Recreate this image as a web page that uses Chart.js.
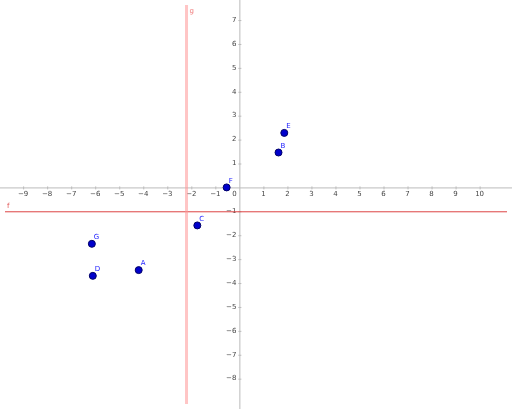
<!DOCTYPE html>
<html><head><meta charset="utf-8">
<script src="https://cdn.jsdelivr.net/npm/chart.js@4"></script>
<style>html,body{margin:0;background:#fff}#c{width:512px;height:409px}</style>
</head><body><div id="c"><canvas id="chart"></canvas></div>
<script>
const pointNames = ["A","B","C","D","E","F","G"];
const pointX = [-4.19, 1.63, -1.75, -6.1, 1.87, -0.53, -6.14];
const pointY = [-3.46, 1.46, -1.59, -3.7, 2.28, 0.0, -2.36];
const lineF = -1.02;   // horizontal line y = const
const lineG = -2.2;    // vertical line x = const
const xTicks = [-9,-8,-7,-6,-5,-4,-3,-2,-1,1,2,3,4,5,6,7,8,9,10];
const yTicks = [7,6,5,4,3,2,1,-1,-2,-3,-4,-5,-6,-7,-8];
const X_MIN = -9.755, X_MAX = 11.14, Y_MIN = -9.06, Y_MAX = 7.63;

const axesPlugin = {
  id: "axes",
  beforeDatasetsDraw(chart){
    const {ctx, scales:{x, y}} = chart;
    const ox = x.getPixelForValue(0), oy = y.getPixelForValue(0);
    ctx.save();
    ctx.strokeStyle = "#bbb"; ctx.lineWidth = 1;
    ctx.beginPath();
    ctx.moveTo(0, oy+0.5); ctx.lineTo(512, oy+0.5);
    ctx.moveTo(ox+0.5, 0); ctx.lineTo(ox+0.5, 409);
    ctx.stroke();
    ctx.fillStyle = "#444"; ctx.font = "7px 'DejaVu Sans'";
    ctx.textAlign = "center"; ctx.textBaseline = "top";
    xTicks.forEach(v => {
      const px = x.getPixelForValue(v);
      ctx.beginPath(); ctx.moveTo(px+0.5, oy-1); ctx.lineTo(px+0.5, oy+2); ctx.stroke();
      ctx.fillText(String(v).replace("-","−"), px, oy+3);
    });
    ctx.fillText("0", ox-5, oy+3);
    ctx.textAlign = "right"; ctx.textBaseline = "middle";
    yTicks.forEach(v => {
      const py = y.getPixelForValue(v);
      ctx.beginPath(); ctx.moveTo(ox-1, py+0.5); ctx.lineTo(ox+2, py+0.5); ctx.stroke();
      ctx.fillText(String(v).replace("-","−"), ox-3, py);
    });
    ctx.restore();
  },
  afterDatasetsDraw(chart){
    const {ctx, scales:{x, y}} = chart;
    ctx.save();
    ctx.font = "7px 'DejaVu Sans'"; ctx.textBaseline = "bottom"; ctx.textAlign = "left";
    ctx.fillStyle = "#1a1aff";
    pointNames.forEach((n, i) => {
      ctx.fillText(n, x.getPixelForValue(pointX[i]) + 2, y.getPixelForValue(pointY[i]) - 3);
    });
    ctx.fillStyle = "#e05050";
    ctx.fillText("f", x.getPixelForValue(X_MIN) + 2, y.getPixelForValue(lineF) - 2);
    ctx.fillStyle = "#f08080";
    ctx.fillText("g", x.getPixelForValue(lineG) + 3, y.getPixelForValue(Y_MAX) + 10);
    ctx.restore();
  }
};

new Chart(document.getElementById("chart"), {
  type: "scatter",
  data: {
    datasets: [
      { data: [{x:lineG, y:Y_MIN}, {x:lineG, y:Y_MAX}], showLine:true, borderColor:"rgba(255,150,150,0.55)", borderWidth:3, pointRadius:0 },
      { data: [{x:X_MIN, y:lineF}, {x:X_MAX, y:lineF}], showLine:true, borderColor:"#d44", borderWidth:1, pointRadius:0 },
      { data: pointX.map((v, i) => ({x:v, y:pointY[i]})), backgroundColor:"#0000cc", borderColor:"#000066", borderWidth:1, pointRadius:3.5 }
    ]
  },
  options: {
    responsive: true, maintainAspectRatio: false, animation: false,
    layout: { padding: 0 },
    plugins: { legend:{display:false}, tooltip:{enabled:false} },
    scales: {
      x: { type:"linear", min:X_MIN, max:X_MAX, display:false },
      y: { type:"linear", min:Y_MIN, max:Y_MAX, display:false }
    }
  },
  plugins: [axesPlugin]
});
</script></body></html>
